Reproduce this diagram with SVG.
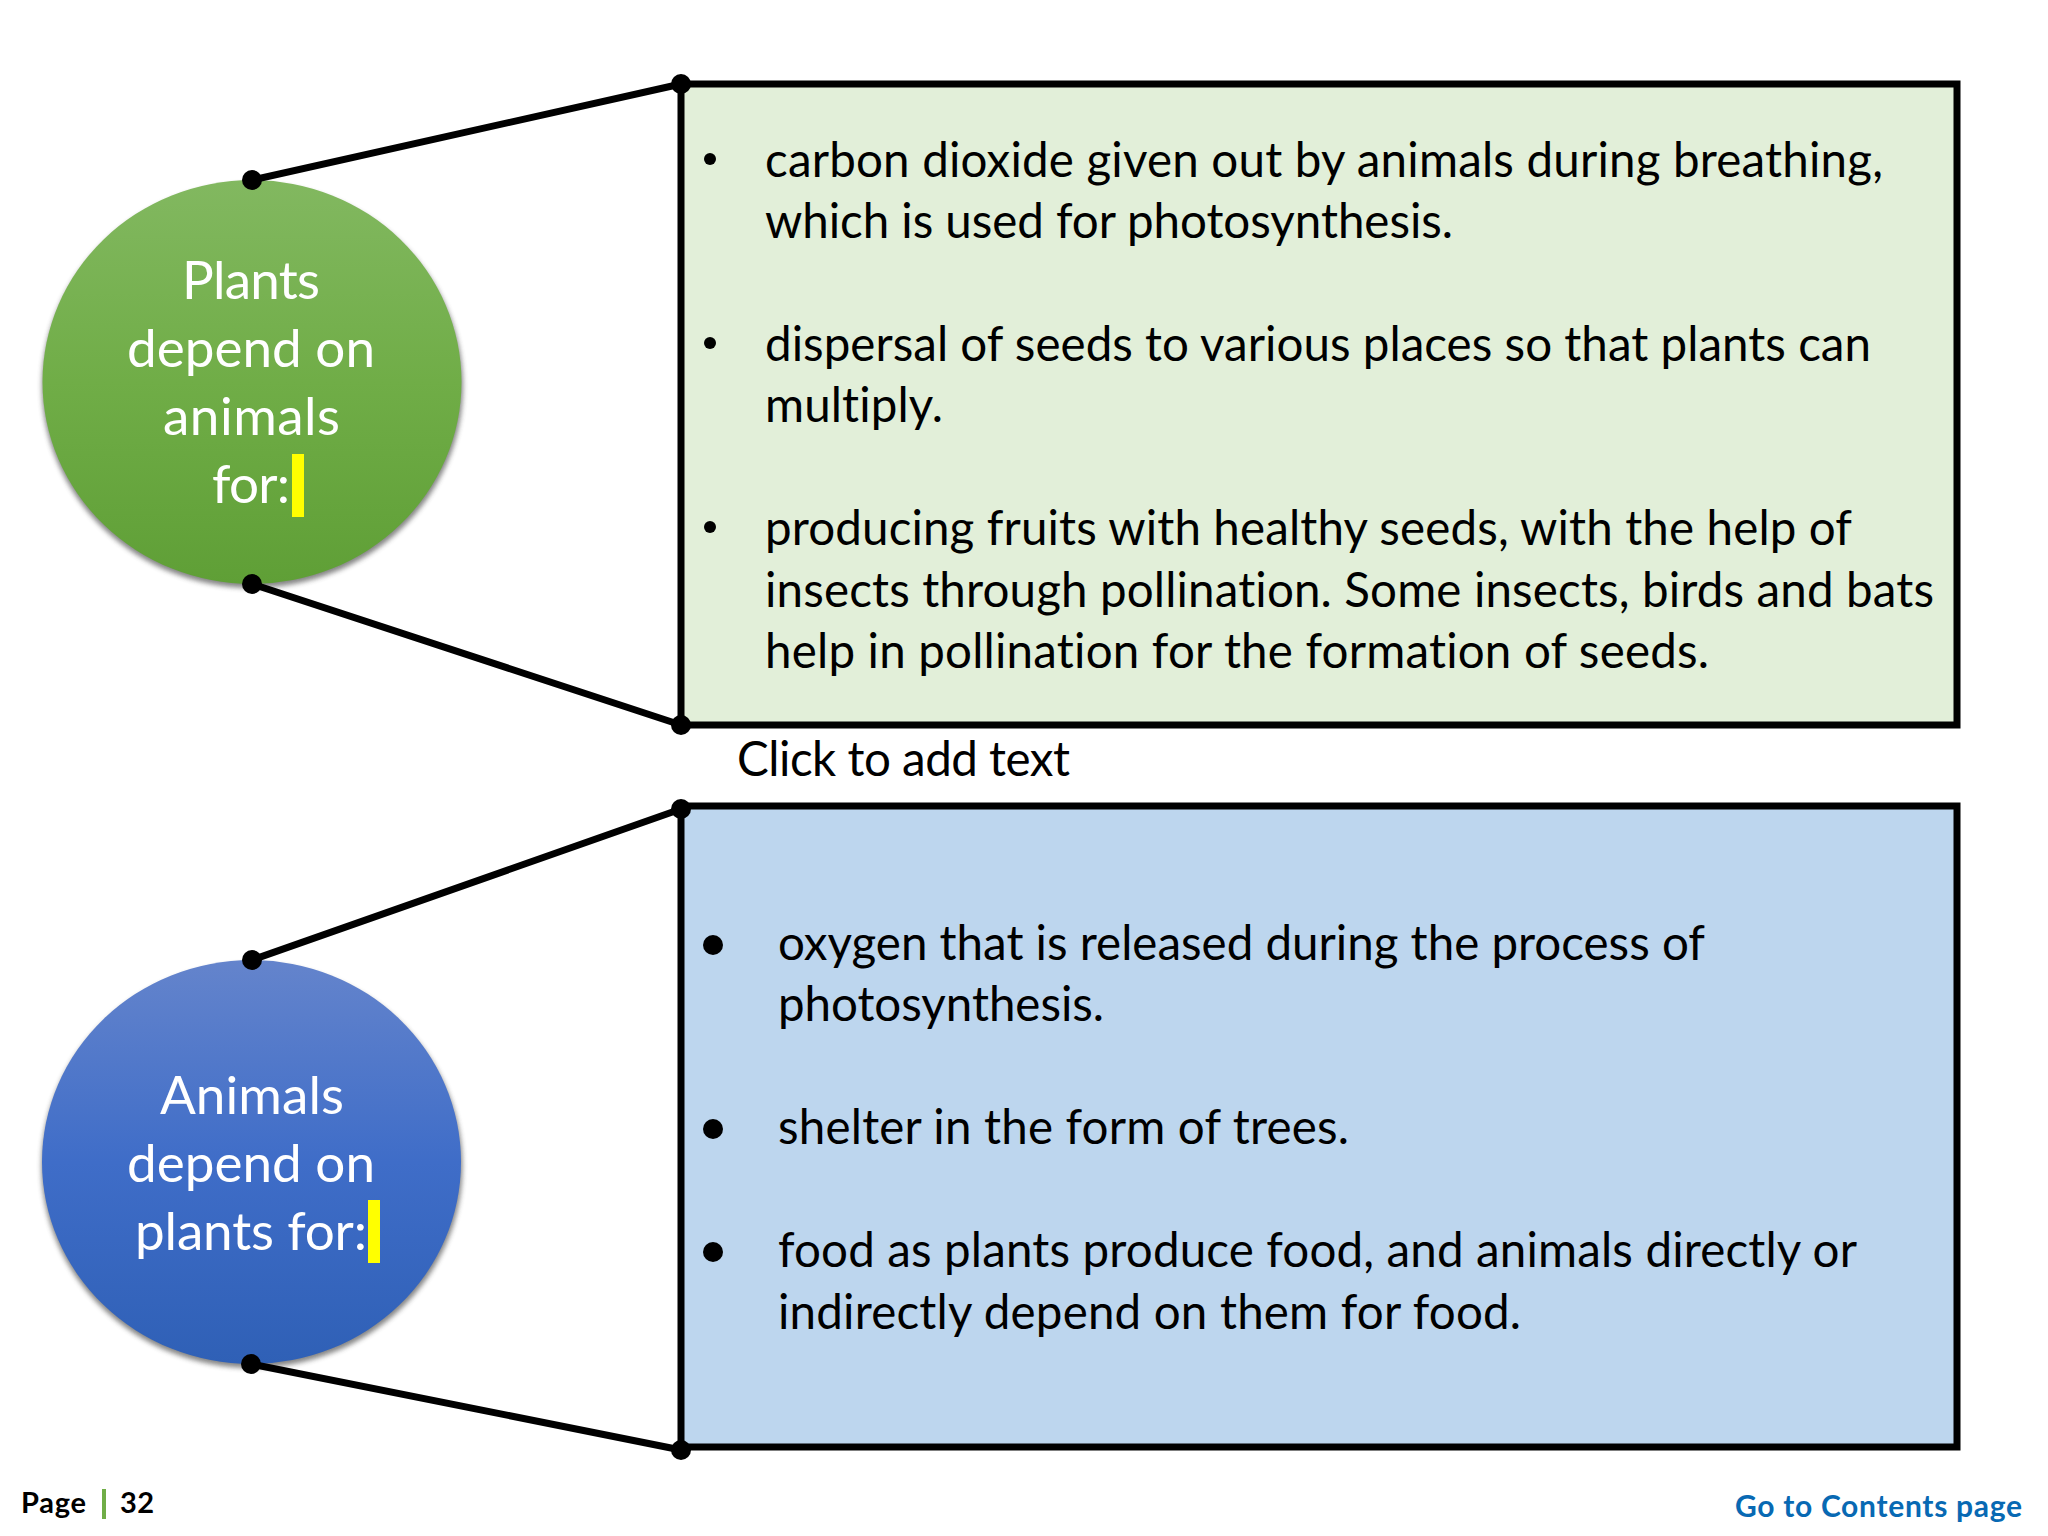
<svg xmlns="http://www.w3.org/2000/svg" width="2048" height="1536" viewBox="0 0 2048 1536">
<style>
text{font-family:Lato,"Liberation Sans",sans-serif;font-variant-ligatures:none}
.b{font-size:47.5px;fill:#000}
.c{font-size:53px;fill:#fff}
.box{stroke:#000;stroke-width:7}
.l{stroke:#000;stroke-width:7;fill:none}
</style>
<defs>
<linearGradient id="g" x1="0" y1="0" x2="0" y2="1"><stop offset="0" stop-color="#82b860"/><stop offset=".5" stop-color="#70ad47"/><stop offset="1" stop-color="#5f9f36"/></linearGradient>
<linearGradient id="u" x1="0" y1="0" x2="0" y2="1"><stop offset="0" stop-color="#6484cc"/><stop offset=".5" stop-color="#3f6dc8"/><stop offset="1" stop-color="#2f60b6"/></linearGradient>
<filter id="s" x="-10%" y="-10%" width="120%" height="120%"><feGaussianBlur stdDeviation="2.5"/></filter>
</defs>
<rect width="2048" height="1536" fill="#fff"/>
<g id="box-top"><rect class="box" x="681" y="84" width="1276" height="641" fill="#e2efd9"/>
<circle cx="710" cy="159" r="6"/><circle cx="710" cy="343" r="6"/><circle cx="710" cy="527" r="6"/>
<text class="b" x="765" y="177" textLength="1118">carbon dioxide given out by animals during breathing,</text>
<text class="b" x="765" y="238" textLength="688">which is used for photosynthesis.</text>
<text class="b" x="765" y="361" textLength="1106">dispersal of seeds to various places so that plants can</text>
<text class="b" x="765" y="422" textLength="178">multiply.</text>
<text class="b" x="765" y="545" textLength="1087">producing fruits with healthy seeds, with the help of</text>
<text class="b" x="765" y="606.500" textLength="1169">insects through pollination. Some insects, birds and bats</text>
<text class="b" x="765" y="668" textLength="944">help in pollination for the formation of seeds.</text>
</g>
<g id="click-text"><text class="b" x="737" y="776" textLength="333">Click to add text</text></g>
<g id="box-bottom"><rect class="box" x="681" y="806" width="1276" height="641" fill="#bdd6ee"/>
<circle cx="713" cy="945" r="10"/><circle cx="713" cy="1129" r="10"/><circle cx="713" cy="1252" r="10"/>
<text class="b" x="778" y="960" textLength="927">oxygen that is released during the process of</text>
<text class="b" x="778" y="1021" textLength="326">photosynthesis.</text>
<text class="b" x="778" y="1144" textLength="571">shelter in the form of trees.</text>
<text class="b" x="778" y="1267" textLength="1079">food as plants produce food, and animals directly or</text>
<text class="b" x="778" y="1328.500" textLength="743">indirectly depend on them for food.</text>
</g>
<g id="circle-plants"><ellipse cx="252.500" cy="386" rx="210.500" ry="202" fill="#444" opacity=".65" filter="url(#s)"/><ellipse cx="252" cy="382" rx="209.500" ry="202" fill="url(#g)"/>
<rect x="292" y="454" width="12" height="63" fill="#ff0"/>
<text class="c" x="182" y="299" textLength="138">Plants</text><text class="c" x="127" y="367" textLength="248">depend on</text><text class="c" x="163" y="435" textLength="177">animals</text><text class="c" x="212" y="503" textLength="78">for:</text></g>
<g id="circle-animals"><ellipse cx="252" cy="1166" rx="210.500" ry="202" fill="#444" opacity=".65" filter="url(#s)"/><ellipse cx="251.500" cy="1162" rx="209.500" ry="202" fill="url(#u)"/>
<rect x="368" y="1200" width="12" height="63" fill="#ff0"/>
<text class="c" x="160" y="1114" textLength="184">Animals</text><text class="c" x="127" y="1182" textLength="248">depend on</text><text class="c" x="135" y="1250" textLength="232">plants for:</text></g>
<g id="connectors">
<path class="l" d="M252 180L681 84M252 584L681 725M252 960L681 809M251 1364L681 1450"/>
<circle cx="252" cy="180" r="10"/><circle cx="681" cy="84" r="10"/><circle cx="252" cy="584" r="10"/><circle cx="681" cy="725" r="10"/><circle cx="252" cy="960" r="10"/><circle cx="681" cy="809" r="10"/><circle cx="251" cy="1364" r="10"/><circle cx="681" cy="1450" r="10"/>
</g>
<g id="footer">
<text x="21" y="1513" font-size="29" font-weight="700" fill="#000" textLength="65">Page</text><rect x="102" y="1489" width="4" height="30" fill="#70ad47"/><text x="120" y="1513" font-size="29" font-weight="700" fill="#000" textLength="34">32</text>
<text x="1735" y="1517" font-size="30" font-weight="700" fill="#0869b3" textLength="287">Go to Contents page</text>
</g>
</svg>
